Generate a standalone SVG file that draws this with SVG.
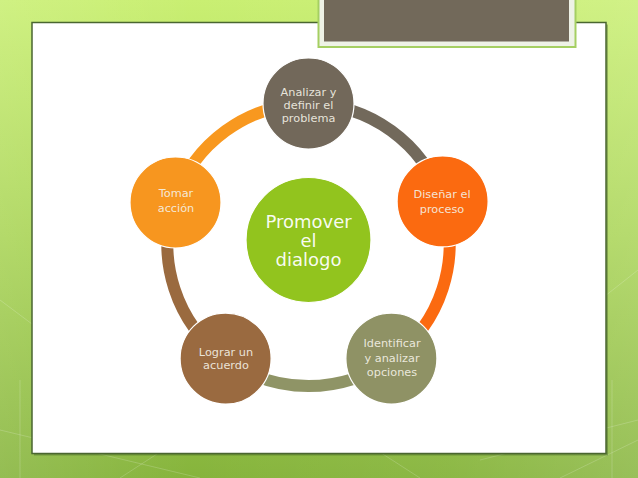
<svg xmlns="http://www.w3.org/2000/svg" width="638" height="478" viewBox="0 0 638 478">
  <defs>
    <linearGradient id="bg" x1="0" y1="0" x2="0" y2="1">
      <stop offset="0" stop-color="#c9ef72"/>
      <stop offset="0.5" stop-color="#a9d456"/>
      <stop offset="1" stop-color="#86b43c"/>
    </linearGradient>
    <linearGradient id="bgv" x1="0" y1="0" x2="1" y2="0">
      <stop offset="0" stop-color="#ffffff" stop-opacity="0.12"/>
      <stop offset="0.3" stop-color="#ffffff" stop-opacity="0"/>
      <stop offset="0.7" stop-color="#ffffff" stop-opacity="0.05"/>
      <stop offset="1" stop-color="#ffffff" stop-opacity="0.15"/>
    </linearGradient>
    <style>
      .arc { fill: none; stroke-width: 12; }
      .node { stroke: #ffffff; stroke-width: 1.2; }
      .lbl { font-family: "DejaVu Sans", "Liberation Sans", sans-serif; font-size: 11.3px; fill: #f4f1e6; fill-opacity: 0.92; text-anchor: middle; }
      .big { font-family: "DejaVu Sans", "Liberation Sans", sans-serif; font-size: 18px; fill: #ffffff; fill-opacity: 0.95; text-anchor: middle; }
      .tex { stroke: #ffffff; stroke-opacity: 0.18; stroke-width: 1; fill: none; }
    </style>
  </defs>

  <!-- background -->
  <rect x="0" y="0" width="638" height="478" fill="url(#bg)"/>
  <rect x="0" y="0" width="638" height="478" fill="url(#bgv)"/>
  <g class="tex">
    <path d="M0 430 L200 478"/>
    <path d="M120 478 L240 400"/>
    <path d="M330 420 L420 478"/>
    <path d="M480 460 L638 420"/>
    <path d="M560 478 L638 440"/>
    <path d="M0 300 L40 330"/>
    <path d="M600 300 L638 270"/>
    <path d="M20 478 L20 380"/>
    <path d="M612 478 L612 380"/>
  </g>

  <!-- white panel -->
  <rect x="34" y="24.5" width="574" height="431" fill="#2f4a18" opacity="0.35"/>
  <rect x="32" y="22.5" width="574" height="431" fill="#ffffff" stroke="#4a6630" stroke-width="1.5"/>

  <!-- title box -->
  <g id="title-box">
    <rect x="318.5" y="-4" width="257" height="51" fill="#eef2e6" stroke="#a5cf62" stroke-width="2"/>
    <rect x="324" y="-2" width="245" height="43.5" fill="#72695a"/>
  </g>

  <!-- connectors -->
  <g id="connectors">
    <path class="arc" stroke="#72695b" d="M308.5 104 A141 141 0 0 1 442.6 201.4"/>
    <path class="arc" stroke="#fb6a10" d="M442.6 201.4 A141 141 0 0 1 391.4 359.1"/>
    <path class="arc" stroke="#8f9466" d="M391.4 359.1 A141 141 0 0 1 225.6 359.1"/>
    <path class="arc" stroke="#9a6a3f" d="M225.6 359.1 A141 141 0 0 1 174.4 201.4"/>
    <path class="arc" stroke="#f8981f" d="M174.4 201.4 A141 141 0 0 1 308.5 104"/>
  </g>

  <g id="center">
    <circle class="node" cx="308.5" cy="240" r="62.5" fill="#92c41e"/>
    <text class="big" x="308.5" y="228">Promover</text>
    <text class="big" x="308.5" y="247">el</text>
    <text class="big" x="308.5" y="266">dialogo</text>
  </g>

  <g id="analizar">
    <circle class="node" cx="308.5" cy="103.5" r="45.5" fill="#72685a"/>
    <text class="lbl" x="308.5" y="96">Analizar y</text>
    <text class="lbl" x="308.5" y="109">definir el</text>
    <text class="lbl" x="308.5" y="122">problema</text>
  </g>

  <g id="disenar">
    <circle class="node" cx="442.6" cy="201.4" r="45.5" fill="#fb6a10"/>
    <text class="lbl" x="442" y="198">Diseñar el</text>
    <text class="lbl" x="442" y="213">proceso</text>
  </g>

  <g id="identificar">
    <circle class="node" cx="391.4" cy="358.6" r="45.5" fill="#8f9265"/>
    <text class="lbl" x="392" y="347">Identificar</text>
    <text class="lbl" x="392" y="362">y analizar</text>
    <text class="lbl" x="392" y="376">opciones</text>
  </g>

  <g id="lograr">
    <circle class="node" cx="225.6" cy="358.6" r="45.5" fill="#9a6a40"/>
    <text class="lbl" x="226" y="356">Lograr un</text>
    <text class="lbl" x="226" y="369">acuerdo</text>
  </g>

  <g id="tomar">
    <circle class="node" cx="175.5" cy="202.5" r="45.5" fill="#f7961f"/>
    <text class="lbl" x="176" y="197">Tomar</text>
    <text class="lbl" x="176" y="212">acción</text>
  </g>
</svg>
